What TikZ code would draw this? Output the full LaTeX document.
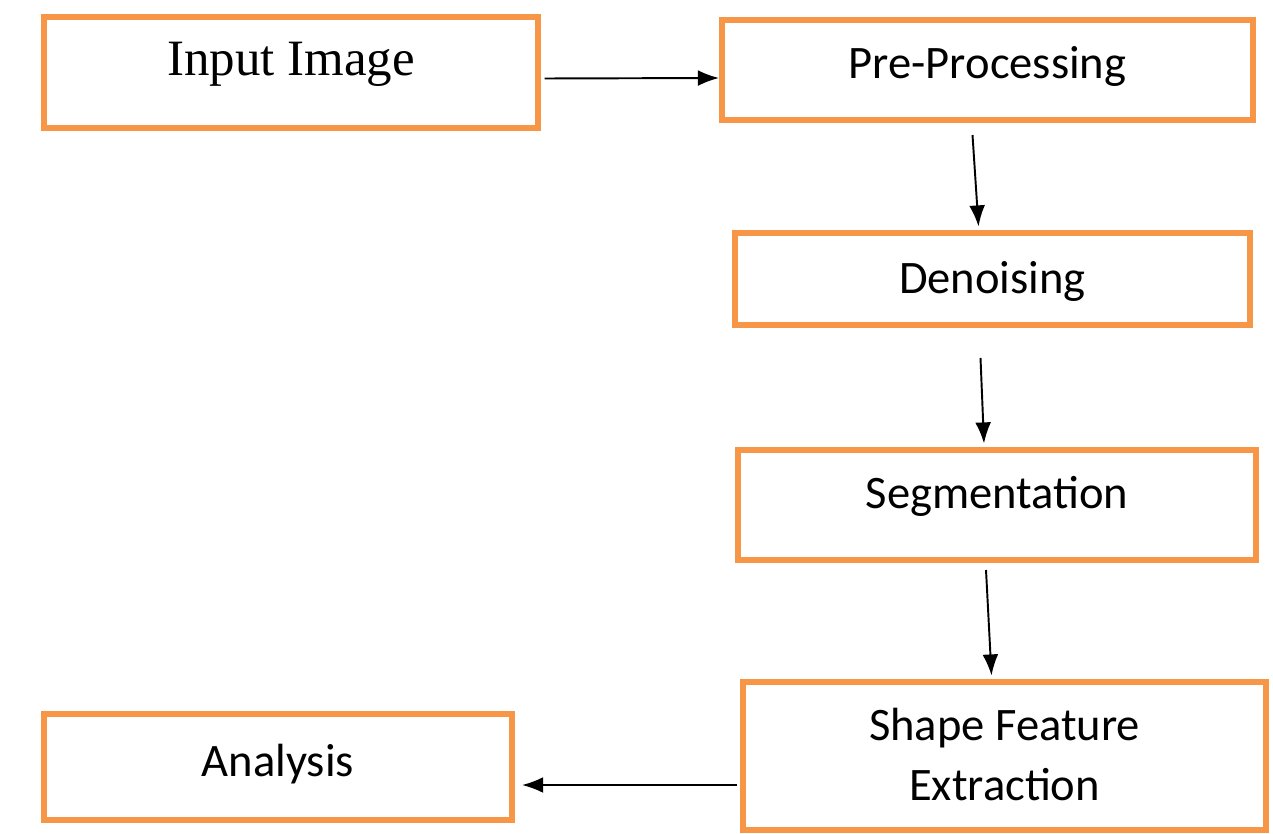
\documentclass[tikz,border=0pt]{standalone}
\usepackage{fontspec}
\setmainfont{Carlito}
\newfontfamily\seriff{Liberation Serif}
\usetikzlibrary{arrows.meta}
\definecolor{boxorange}{HTML}{F79646}
\begin{document}
\begin{tikzpicture}[x=0.02cm,y=-0.02cm,
  box/.style={draw=boxorange,line width=3.4pt,inner sep=0pt,font=\fontsize{26.5}{30}\selectfont,align=center},
  arr/.style={line width=1.1pt,-{Latex[length=12pt,width=9pt]}}]
\useasboundingbox (0,0) rectangle (1273,834);
\node[box,minimum width=494*0.02cm,minimum height=111*0.02cm,font=\seriff\fontsize{29}{30}\selectfont,text depth=16pt] (in) at (291,72.5) {Input Image};
\node[box,minimum width=531*0.02cm,minimum height=100*0.02cm,text depth=8pt] (pre) at (987.5,70) {Pre-Processing};
\node[box,minimum width=515*0.02cm,minimum height=92*0.02cm,text depth=2pt] (den) at (992.5,279) {Denoising};
\node[box,minimum width=518*0.02cm,minimum height=110*0.02cm,text depth=14pt] (seg) at (997,505) {Segmentation};
\node[box,minimum width=523*0.02cm,minimum height=148*0.02cm,text depth=2pt] (sfe) at (1004.5,756) {Shape Feature\\[4pt]Extraction};
\node[box,minimum width=468*0.02cm,minimum height=106*0.02cm,text depth=8pt] (ana) at (278,767) {Analysis};
\draw[arr] ([xshift=2pt,yshift=-6*0.02cm]in.east) -- ([yshift=-8*0.02cm]pre.west);
\draw[arr] ([xshift=-15*0.02cm,yshift=-12*0.02cm]pre.south) -- ([xshift=-14*0.02cm,yshift=2pt]den.north);
\draw[arr] ([xshift=-12*0.02cm,yshift=-30*0.02cm]den.south) -- ([xshift=-13*0.02cm,yshift=2pt]seg.north);
\draw[arr] ([xshift=-11*0.02cm,yshift=-7*0.02cm]seg.south) -- ([xshift=-13*0.02cm,yshift=2pt]sfe.north);
\draw[arr] ([xshift=-3*0.02cm,yshift=-29*0.02cm]sfe.west) -- ([xshift=4pt,yshift=-18*0.02cm]ana.east);
\end{tikzpicture}
\end{document}
